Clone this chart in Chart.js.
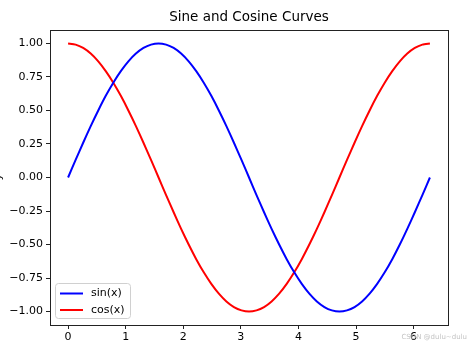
<!DOCTYPE html>
<html>
<head>
<meta charset="utf-8">
<script src="https://cdn.jsdelivr.net/npm/chart.js@4/dist/chart.umd.min.js"></script>
<style>
  html,body{margin:0;padding:0;background:#fff;}
  #c{display:block;}
</style>
</head>
<body>
<canvas id="c" width="474" height="351"></canvas>
<script>
// values, x from 0 to 2*pi
const xValues = [0,0.131,0.262,0.393,0.524,0.654,0.785,0.916,1.047,1.178,1.309,1.440,1.571,1.702,1.833,1.963,2.094,2.225,2.356,2.487,2.618,2.749,2.880,3.011,3.142,3.272,3.403,3.534,3.665,3.796,3.927,4.058,4.189,4.320,4.451,4.581,4.712,4.843,4.974,5.105,5.236,5.367,5.498,5.629,5.760,5.890,6.021,6.152,6.283];
const sinValues = [0,0.131,0.259,0.383,0.500,0.609,0.707,0.793,0.866,0.924,0.966,0.991,1.000,0.991,0.966,0.924,0.866,0.793,0.707,0.609,0.500,0.383,0.259,0.131,0,-0.131,-0.259,-0.383,-0.500,-0.609,-0.707,-0.793,-0.866,-0.924,-0.966,-0.991,-1.000,-0.991,-0.966,-0.924,-0.866,-0.793,-0.707,-0.609,-0.500,-0.383,-0.259,-0.131,0];
const cosValues = [1.000,0.991,0.966,0.924,0.866,0.793,0.707,0.609,0.500,0.383,0.259,0.131,0,-0.131,-0.259,-0.383,-0.500,-0.609,-0.707,-0.793,-0.866,-0.924,-0.966,-0.991,-1.000,-0.991,-0.966,-0.924,-0.866,-0.793,-0.707,-0.609,-0.500,-0.383,-0.259,-0.131,0,0.131,0.259,0.383,0.500,0.609,0.707,0.793,0.866,0.924,0.966,0.991,1.000];
const xTicks = [0,1,2,3,4,5,6];
const yTicks = [-1,-0.75,-0.5,-0.25,0,0.25,0.5,0.75,1];
const seriesNames = ['sin(x)','cos(x)'];
const seriesColors = ['#0000ff','#ff0000'];

const FONT = 'DejaVu Sans';

const pts = ys => xValues.map((x,i)=>({x, y: ys[i]}));

// frame, title, legend, cut-off y label and watermark
const extras = {
  id: 'extras',
  afterDraw(chart){
    const {ctx, chartArea: a} = chart;
    ctx.save();
    ctx.strokeStyle = '#222';
    ctx.lineWidth = 1;
    ctx.strokeRect(Math.round(a.left)+0.5, Math.round(a.top)+0.5, Math.round(a.right-a.left), Math.round(a.bottom-a.top));

    ctx.fillStyle = '#000';
    ctx.font = `13.5px "${FONT}"`;
    ctx.textAlign = 'center';
    ctx.textBaseline = 'middle';
    ctx.fillText('Sine and Cosine Curves', (a.left+a.right)/2, 17);

    // legend box, lower left
    const lx = a.left+5, ly = a.bottom-42, lw = 75, lh = 35;
    ctx.fillStyle = 'rgba(255,255,255,0.8)';
    ctx.strokeStyle = '#d0d0d0';
    ctx.beginPath();
    ctx.roundRect(lx+0.5, ly+0.5, lw, lh, 3);
    ctx.fill(); ctx.stroke();
    ctx.font = `11px "${FONT}"`;
    ctx.textAlign = 'left';
    seriesNames.forEach((n,i)=>{
      const yy = ly + 10.5 + i*16.5;
      ctx.strokeStyle = seriesColors[i];
      ctx.lineWidth = 2;
      ctx.beginPath(); ctx.moveTo(lx+5, yy); ctx.lineTo(lx+28, yy); ctx.stroke();
      ctx.fillStyle = '#000';
      ctx.fillText(n, lx+36, yy);
    });

    // y label mostly outside the figure
    ctx.save();
    ctx.translate(-2, 177);
    ctx.rotate(-Math.PI/2);
    ctx.font = `11px "${FONT}"`;
    ctx.textAlign = 'center';
    ctx.fillStyle = '#000';
    ctx.fillText('y', 0, 0);
    ctx.restore();

    ctx.font = `7px "${FONT}"`;
    ctx.fillStyle = '#c4c4c4';
    ctx.textAlign = 'right';
    ctx.fillText('CSDN @dulu~dulu', 467, 337);
    ctx.restore();
  }
};

new Chart(document.getElementById('c'), {
  type: 'line',
  data: {
    datasets: [
      {label: seriesNames[0], data: pts(sinValues), borderColor: seriesColors[0], borderWidth: 2, pointRadius: 0, tension: 0.2, fill: false},
      {label: seriesNames[1], data: pts(cosValues), borderColor: seriesColors[1], borderWidth: 2, pointRadius: 0, tension: 0.2, fill: false}
    ]
  },
  options: {
    responsive: false,
    animation: false,
    layout: {padding: {top: 30, left: 0, right: 26, bottom: 0}},
    plugins: {legend: {display: false}, tooltip: {enabled: false}},
    scales: {
      x: {
        type: 'linear',
        min: -0.314, max: 6.597,
        afterBuildTicks: s => { s.ticks = xTicks.map(v=>({value: v})); },
        afterFit: s => { s.height = 26; },
        grid: {drawOnChartArea: false, drawTicks: true, tickLength: 4, color: '#222'},
        border: {display: true, color: '#222'},
        ticks: {color: '#000', font: {family: FONT, size: 11}, padding: 2, maxRotation: 0, callback: v => String(v)}
      },
      y: {
        min: -1.1, max: 1.1,
        afterBuildTicks: s => { s.ticks = yTicks.map(v=>({value: v})); },
        afterFit: s => { s.width = 50; },
        grid: {drawOnChartArea: false, drawTicks: true, tickLength: 4, color: '#222'},
        border: {display: true, color: '#222'},
        ticks: {color: '#000', font: {family: FONT, size: 11}, padding: 3, callback: v => v.toFixed(2).replace('-', '\u2212')}
      }
    }
  },
  plugins: [extras]
});
</script>
</body>
</html>
